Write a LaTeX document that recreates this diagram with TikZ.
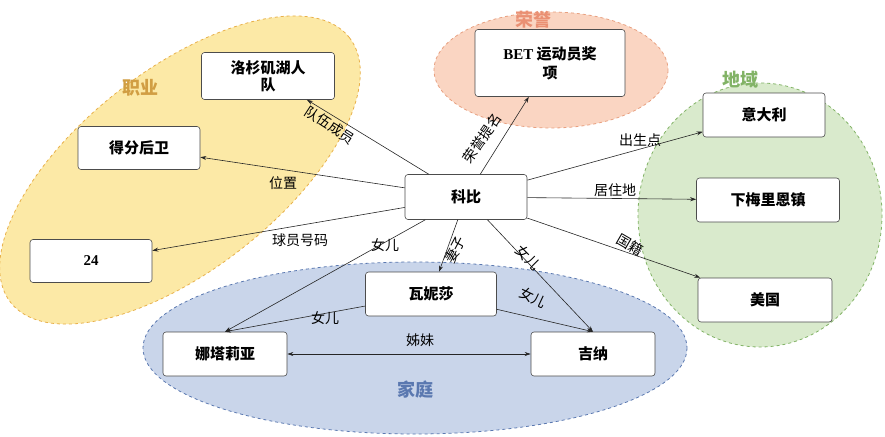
\documentclass[tikz,border=0pt]{standalone}
\usepackage{fontspec}
\setmainfont{Liberation Serif}
\newfontfamily\cjk{Noto Sans CJK SC}
\usetikzlibrary{arrows.meta}
\definecolor{yfill}{HTML}{FCE9A6}
\definecolor{yline}{HTML}{E8B04A}
\definecolor{rfill}{HTML}{FAD5C2}
\definecolor{rline}{HTML}{E8A080}
\definecolor{gfill}{HTML}{D9EACC}
\definecolor{gline}{HTML}{82B366}
\definecolor{bfill}{HTML}{C9D5EA}
\definecolor{bline}{HTML}{5A78B0}
\begin{document}
\begin{tikzpicture}[x=1pt,y=-1pt,
  box/.style={draw=black!70,fill=white,rounded corners=3pt,line width=0.6pt,font=\cjk\fontsize{15}{19}\selectfont\bfseries,align=center,inner sep=2pt},
  lab/.style={font=\cjk\fontsize{14}{16}\selectfont,inner sep=1pt},
  grp/.style={font=\cjk\fontsize{18}{20}\selectfont\bfseries},
  arr/.style={-{Stealth[length=6pt,width=4pt]},line width=0.6pt,black!85}]
\useasboundingbox (0,0) rectangle (885,436);
\draw[yline,fill=yfill,dashed,line width=0.8pt,rotate around={38:(180,170)}] (180,170) ellipse [x radius=215,y radius=100];
\draw[rline,fill=rfill,dashed,line width=0.8pt] (551,70) ellipse [x radius=117,y radius=58];
\draw[gline,fill=gfill,dashed,line width=0.8pt] (760,215) ellipse [x radius=122,y radius=132];
\draw[bline,fill=bfill,dashed,line width=0.8pt] (415,348) ellipse [x radius=272,y radius=86];
\node[grp,text=yline!90!black] at (140,88) {职业};
\node[grp,text=rline!90!red] at (533,20) {荣誉};
\node[grp,text=gline] at (740,80) {地域};
\node[grp,text=bline] at (415,390) {家庭};
\node[box,minimum width=122pt,minimum height=45pt] (kb) at (466,197) {科比};
\node[box,minimum width=133pt,minimum height=47pt,font=\cjk\fontsize{15}{17}\selectfont\bfseries] (lak) at (268,76) {洛杉矶湖人\\队};
\node[box,minimum width=122pt,minimum height=43pt] (sg) at (139,148) {得分后卫};
\node[box,minimum width=122pt,minimum height=43pt,font=\bfseries\fontsize{15}{17}\selectfont] (n24) at (91,261) {24};
\node[box,minimum width=150pt,minimum height=67pt] (bet) at (550,63) {{\fontspec{Liberation Serif}BET} 运动员奖\\项};
\node[box,minimum width=122pt,minimum height=44pt] (it) at (764,115) {意大利};
\node[box,minimum width=143pt,minimum height=44pt] (lm) at (768,200) {下梅里恩镇};
\node[box,minimum width=134pt,minimum height=44pt] (us) at (765,300) {美国};
\node[box,minimum width=131pt,minimum height=44pt] (vn) at (431,294) {瓦妮莎};
\node[box,minimum width=124pt,minimum height=44pt] (nt) at (225,354) {娜塔莉亚};
\node[box,minimum width=124pt,minimum height=44pt] (gn) at (593,354) {吉纳};
\draw[arr] (kb) -- (lak);
\draw[arr] (kb) -- (sg);
\draw[arr] (kb) -- (n24);
\draw[arr] (kb) -- (bet);
\draw[arr] (kb) -- (it);
\draw[arr] (kb) -- (lm);
\draw[arr] (kb) -- (us);
\draw[arr] (kb) -- (vn);
\draw[arr] (kb) -- (nt.north);
\draw[arr] (kb) -- (gn.north);
\draw[arr] (vn) -- (nt.north);
\draw[arr] (vn) -- (gn.north);
\draw[{Stealth[length=6pt,width=4pt]}-{Stealth[length=6pt,width=4pt]},line width=0.6pt,black!85] (nt) -- (gn);
\node[lab,rotate=-33] at (330,125) {队伍成员};
\node[lab] at (283,183) {位置};
\node[lab] at (300,240) {球员号码};
\node[lab,rotate=55] at (482,138) {荣誉提名};
\node[lab] at (640,140) {出生点};
\node[lab] at (615,190) {居住地};
\node[lab,rotate=-30] at (630,245) {国籍};
\node[lab,rotate=62] at (455,250) {妻子};
\node[lab] at (385,245) {女儿};
\node[lab,rotate=-45] at (528,258) {女儿};
\node[lab] at (325,318) {女儿};
\node[lab,rotate=-25] at (533,298) {女儿};
\node[lab] at (420,340) {姊妹};
\end{tikzpicture}
\end{document}
